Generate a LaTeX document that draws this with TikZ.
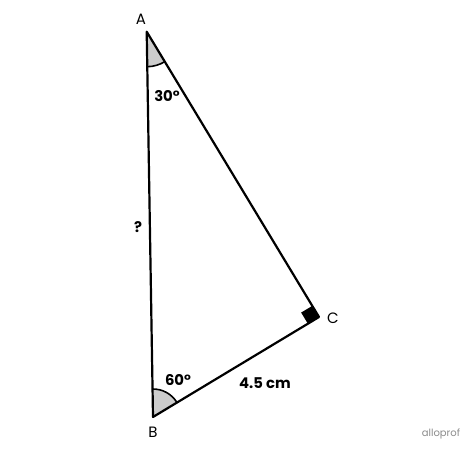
\documentclass[tikz,border=0pt]{standalone}
\usepackage{fontspec}
\setmainfont{Poppins}
\usetikzlibrary{calc}
\begin{document}
\begin{tikzpicture}[x=1pt,y=-1pt,
  side/.style={line width=2.2pt, line join=round},
  lbl/.style={font=\fontsize{15}{17}\selectfont, inner sep=0pt},
  blbl/.style={font=\fontsize{14.8}{17}\selectfont\bfseries, inner sep=0pt},
  arcline/.style={line width=1.6pt}]
\useasboundingbox (0,0) rectangle (474,452);
\coordinate (A) at (146.7,31.7);
\coordinate (B) at (153,417);
\coordinate (C) at (319,317);
\coordinate (A1) at ($(A)!35pt!(B)$);
\coordinate (B1) at ($(B)!28pt!(A)$);
\coordinate (CA) at ($(C)!13pt!(A)$);
\coordinate (CB) at ($(C)!13pt!(B)$);
\coordinate (CX) at ($(CA)+(CB)-(C)$);
% angle fills
\fill[black!20] (A) -- (A1) arc[start angle=-89.1, end angle=-58.9, radius=35pt] -- cycle;
\draw[arcline] (A1) arc[start angle=-89.1, end angle=-58.9, radius=35pt];
\fill[black!20] (B) -- (B1) arc[start angle=90.9, end angle=31.0, radius=28pt] -- cycle;
\draw[arcline] (B1) arc[start angle=90.9, end angle=31.0, radius=28pt];
% right angle
\fill (C) -- (CA) -- (CX) -- (CB) -- cycle;
\draw[side] (A) -- (B) -- (C) -- cycle;
\node[lbl] (la) at (141,19) {A};
\node[lbl] (lb) at (153,432) {B};
\node[lbl] (lc) at (333,318) {C};
\node[blbl] (a30) at (167,96) {30°};
\node[blbl] (a60) at (178,380) {60°};
\node[blbl] (q) at (138,227) {?};
\node[blbl] (bc) at (265,383) {4.5 cm};
\node[font=\fontsize{10}{11}\selectfont, text=black!45, inner sep=0pt] (logo) at (441,434) {alloprof};
\end{tikzpicture}
\end{document}
